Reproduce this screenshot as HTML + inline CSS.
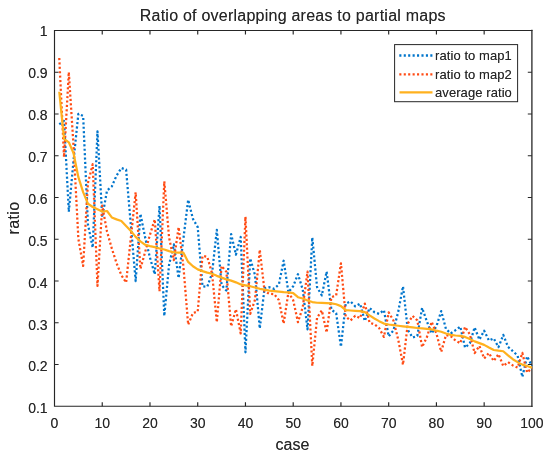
<!DOCTYPE html>
<html><head><meta charset="utf-8"><title>Ratio of overlapping areas to partial maps</title>
<style>
html,body{margin:0;padding:0;background:#fff}
#fig{position:relative;width:550px;height:458px;overflow:hidden;background:#fff;font-family:"Liberation Sans",Arial,Helvetica,sans-serif;color:#262626}
#fig svg{position:absolute;left:0;top:0;display:block}
.t{position:absolute;white-space:nowrap;line-height:1;margin:0;padding:0;text-shadow:0 0 0.5px rgba(38,38,38,0.55)}
.xt{font-size:14px;width:40px;text-align:center}
.yt{font-size:14px;width:40px;text-align:right}
.lg{font-size:13px;letter-spacing:0.08px}
.lb{font-size:16px}
</style></head><body>
<div id="fig">
<svg width="550" height="458" viewBox="0 0 550 458">
<rect x="0" y="0" width="550" height="458" fill="#ffffff"/>
<g stroke="#262626" stroke-width="1.15" fill="none">
<path d="M54.50 30.50 H531.90 M54.50 406.25 H531.90 M54.50 30.50 V406.25" stroke-linecap="square"/>
<path d="M531.90 30.50 V406.25" stroke-width="1.3" stroke-linecap="square"/>
<path d="M102.24 406.25 v-4.1 M102.24 30.50 v4.1"/>
<path d="M149.98 406.25 v-4.1 M149.98 30.50 v4.1"/>
<path d="M197.72 406.25 v-4.1 M197.72 30.50 v4.1"/>
<path d="M245.46 406.25 v-4.1 M245.46 30.50 v4.1"/>
<path d="M293.20 406.25 v-4.1 M293.20 30.50 v4.1"/>
<path d="M340.94 406.25 v-4.1 M340.94 30.50 v4.1"/>
<path d="M388.68 406.25 v-4.1 M388.68 30.50 v4.1"/>
<path d="M436.42 406.25 v-4.1 M436.42 30.50 v4.1"/>
<path d="M484.16 406.25 v-4.1 M484.16 30.50 v4.1"/>
<path d="M54.50 364.50 h4.1 M531.90 364.50 h-4.1"/>
<path d="M54.50 322.75 h4.1 M531.90 322.75 h-4.1"/>
<path d="M54.50 281.00 h4.1 M531.90 281.00 h-4.1"/>
<path d="M54.50 239.25 h4.1 M531.90 239.25 h-4.1"/>
<path d="M54.50 197.50 h4.1 M531.90 197.50 h-4.1"/>
<path d="M54.50 155.75 h4.1 M531.90 155.75 h-4.1"/>
<path d="M54.50 114.00 h4.1 M531.90 114.00 h-4.1"/>
<path d="M54.50 72.25 h4.1 M531.90 72.25 h-4.1"/>
</g>
<g fill="none" stroke-width="2.25" stroke-linejoin="round">
<path d="M59.27 124.26 L64.05 120.92 L68.82 211.76 L73.60 159.68 L78.37 113.84 L83.14 115.92 L87.92 224.27 L92.69 247.60 L97.47 131.34 L102.24 217.18 L107.01 190.51 L111.79 186.51 L116.56 175.59 L121.34 168.01 L126.11 169.68 L130.88 225.52 L135.66 281.10 L140.43 213.85 L145.21 237.85 L149.98 257.68 L154.75 274.27 L159.53 205.72 L164.30 315.94 L169.08 264.69 L173.85 244.43 L178.62 278.10 L183.40 238.68 L188.17 199.81 L192.95 218.85 L197.72 227.18 L202.49 286.35 L207.27 286.77 L212.04 273.44 L216.82 229.85 L221.59 285.10 L226.36 290.52 L231.14 234.06 L235.91 254.68 L240.69 237.02 L245.46 352.28 L250.23 258.48 L255.01 275.19 L259.78 328.44 L264.56 288.02 L269.33 287.19 L274.10 288.85 L278.88 284.44 L283.65 260.73 L288.43 292.31 L293.20 286.19 L297.97 274.19 L302.75 289.69 L307.52 329.27 L312.30 237.47 L317.07 287.19 L321.84 295.44 L326.62 271.60 L331.39 309.69 L336.17 313.19 L340.94 346.78 L345.71 303.61 L350.49 301.44 L355.26 306.36 L360.04 303.61 L364.81 321.06 L369.58 307.98 L374.36 312.19 L379.13 313.86 L383.91 310.15 L388.68 336.36 L393.45 330.36 L398.23 311.77 L403.00 286.35 L407.78 329.90 L412.55 337.48 L417.32 335.94 L422.10 307.81 L426.87 321.44 L431.65 333.44 L436.42 326.36 L441.19 311.11 L445.97 329.07 L450.74 333.44 L455.52 330.15 L460.29 326.57 L465.06 347.61 L469.84 343.44 L474.61 327.44 L479.39 339.65 L484.16 330.69 L488.93 340.52 L493.71 338.36 L498.48 347.19 L503.26 334.90 L508.03 346.90 L512.80 351.03 L517.58 355.61 L522.35 376.90 L527.13 356.36 L531.90 365.94" stroke="#0075CC" stroke-dasharray="2.1 2.3"/>
<path d="M59.27 58.00 L64.05 157.18 L68.82 72.17 L73.60 147.18 L78.37 238.85 L83.14 265.94 L87.92 183.01 L92.69 164.26 L97.47 285.94 L102.24 205.51 L107.01 231.52 L111.79 248.43 L116.56 263.19 L121.34 275.10 L126.11 282.60 L130.88 237.60 L135.66 192.30 L140.43 268.85 L145.21 251.77 L149.98 234.68 L154.75 219.35 L159.53 291.23 L164.30 181.35 L169.08 237.60 L173.85 260.19 L178.62 227.18 L183.40 266.35 L188.17 324.69 L192.95 313.02 L197.72 311.61 L202.49 255.93 L207.27 256.77 L212.04 273.44 L216.82 322.19 L221.59 265.94 L226.36 271.77 L231.14 326.36 L235.91 309.27 L240.69 333.44 L245.46 216.76 L250.23 313.86 L255.01 299.69 L259.78 249.77 L264.56 291.35 L269.33 293.85 L274.10 294.06 L278.88 300.10 L283.65 323.65 L288.43 292.31 L293.20 300.19 L297.97 322.19 L302.75 307.19 L307.52 271.56 L312.30 365.94 L317.07 317.61 L321.84 310.36 L326.62 332.61 L331.39 297.19 L336.17 295.35 L340.94 263.27 L345.71 316.69 L350.49 320.52 L355.26 315.81 L360.04 318.11 L364.81 303.61 L369.58 322.69 L374.36 324.27 L379.13 328.02 L383.91 336.90 L388.68 312.36 L393.45 320.52 L398.23 339.69 L403.00 364.69 L407.78 323.61 L412.55 315.98 L417.32 320.36 L422.10 347.07 L426.87 337.23 L431.65 321.77 L436.42 333.44 L441.19 351.78 L445.97 335.07 L450.74 336.15 L455.52 340.52 L460.29 343.23 L465.06 326.90 L469.84 334.27 L474.61 353.07 L479.39 345.98 L484.16 358.44 L488.93 353.03 L493.71 361.07 L498.48 354.07 L503.26 365.99 L508.03 362.15 L512.80 365.44 L517.58 367.61 L522.35 352.90 L527.13 372.53 L531.90 368.03" stroke="#FF4B14" stroke-dasharray="2.1 2.3"/>
<path d="M59.27 91.75 L64.05 138.84 L68.82 142.30 L73.60 153.43 L78.37 177.18 L83.14 192.18 L87.92 203.60 L92.69 207.01 L97.47 209.26 L102.24 211.56 L107.01 211.01 L111.79 217.47 L116.56 219.39 L121.34 220.97 L126.11 225.93 L130.88 230.93 L135.66 236.93 L140.43 241.35 L145.21 244.81 L149.98 246.18 L154.75 247.06 L159.53 248.48 L164.30 249.48 L169.08 251.10 L173.85 252.31 L178.62 252.64 L183.40 252.64 L188.17 261.89 L192.95 266.27 L197.72 269.39 L202.49 271.14 L207.27 272.60 L212.04 273.77 L216.82 275.85 L221.59 277.60 L226.36 279.35 L231.14 280.60 L235.91 282.35 L240.69 284.44 L245.46 285.31 L250.23 286.19 L255.01 287.44 L259.78 288.81 L264.56 289.69 L269.33 290.56 L274.10 291.10 L278.88 291.60 L283.65 292.15 L288.43 292.31 L293.20 293.19 L297.97 297.19 L302.75 298.44 L307.52 300.52 L312.30 302.06 L317.07 302.73 L321.84 302.90 L326.62 303.06 L331.39 303.40 L336.17 304.27 L340.94 306.11 L345.71 310.11 L350.49 310.48 L355.26 310.81 L360.04 311.06 L364.81 312.19 L369.58 315.44 L374.36 318.52 L379.13 321.15 L383.91 323.57 L388.68 324.48 L393.45 325.19 L398.23 325.77 L403.00 326.36 L407.78 326.90 L412.55 327.44 L417.32 327.98 L422.10 328.40 L426.87 328.86 L431.65 329.40 L436.42 330.69 L441.19 331.77 L445.97 333.44 L450.74 334.86 L455.52 335.52 L460.29 335.94 L465.06 336.94 L469.84 338.90 L474.61 341.40 L479.39 343.15 L484.16 344.90 L488.93 347.53 L493.71 349.98 L498.48 350.69 L503.26 351.23 L508.03 355.40 L512.80 359.23 L517.58 362.15 L522.35 364.65 L527.13 365.99 L531.90 367.61" stroke="#FFB11E" stroke-width="2.2"/>
</g>
<rect x="394.6" y="44.6" width="123" height="57.1" fill="#fff" stroke="#262626" stroke-width="1"/>
<path d="M399.3 55.5 H432.5" stroke="#0075CC" stroke-width="2.3" stroke-dasharray="2.1 2.33" fill="none"/>
<path d="M399.3 74.3 H432.5" stroke="#FF4B14" stroke-width="2.3" stroke-dasharray="2.1 2.33" fill="none"/>
<path d="M399.5 92.4 H432.5" stroke="#FFB11E" stroke-width="2.3" fill="none"/>
</svg>
<div class="t xt" style="left:34.50px;top:415.55px;">0</div>
<div class="t xt" style="left:82.24px;top:415.55px;">10</div>
<div class="t xt" style="left:129.98px;top:415.55px;">20</div>
<div class="t xt" style="left:177.72px;top:415.55px;">30</div>
<div class="t xt" style="left:225.46px;top:415.55px;">40</div>
<div class="t xt" style="left:273.20px;top:415.55px;">50</div>
<div class="t xt" style="left:320.94px;top:415.55px;">60</div>
<div class="t xt" style="left:368.68px;top:415.55px;">70</div>
<div class="t xt" style="left:416.42px;top:415.55px;">80</div>
<div class="t xt" style="left:464.16px;top:415.55px;">90</div>
<div class="t xt" style="left:511.90px;top:415.55px;">100</div>
<div class="t yt" style="left:7.60px;top:401.36px;">0.1</div>
<div class="t yt" style="left:7.60px;top:359.47px;">0.2</div>
<div class="t yt" style="left:7.60px;top:317.58px;">0.3</div>
<div class="t yt" style="left:7.60px;top:275.69px;">0.4</div>
<div class="t yt" style="left:7.60px;top:233.80px;">0.5</div>
<div class="t yt" style="left:7.60px;top:191.91px;">0.6</div>
<div class="t yt" style="left:7.60px;top:150.02px;">0.7</div>
<div class="t yt" style="left:7.60px;top:108.13px;">0.8</div>
<div class="t yt" style="left:7.60px;top:66.24px;">0.9</div>
<div class="t yt" style="left:7.60px;top:24.35px;">1</div>
<div class="t lg" style="left:435.00px;top:48.90px;">ratio to map1</div>
<div class="t lg" style="left:435.00px;top:67.70px;">ratio to map2</div>
<div class="t lg" style="left:435.00px;top:85.80px;">average ratio</div>
<div class="t lb" style="left:142.50px;top:437.36px;width:300px;text-align:center">case</div>
<div class="t lb" style="left:92.80px;top:8.06px;width:400px;text-align:center;font-size:16px;letter-spacing:0.235px">Ratio of overlapping areas to partial maps</div>
<div class="t lb" style="left:-35.70px;top:210.20px;width:100px;height:16.00px;text-align:center;transform:rotate(-90deg);transform-origin:50% 50%;letter-spacing:0.4px">ratio</div>
</div></body></html>
